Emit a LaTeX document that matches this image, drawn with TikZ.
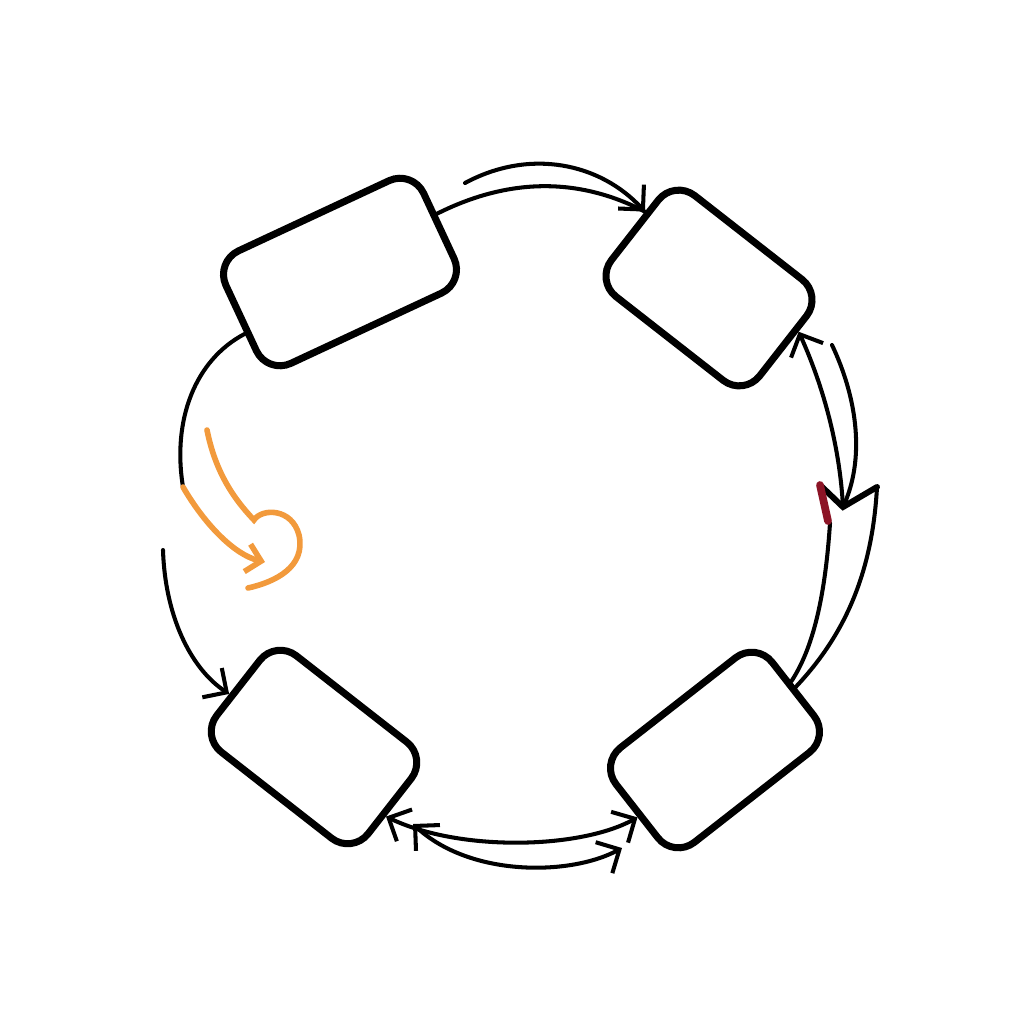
\documentclass[tikz,border=0pt]{standalone}
\usetikzlibrary{arrows.meta}
\definecolor{curlorange}{HTML}{F29A3C}
\definecolor{inkred}{HTML}{8C1426}

\begin{document}
\begin{tikzpicture}[
  x=0.01cm, y=-0.01cm,
  card/.style={draw, line width=2pt, rounded corners=0.26cm, inner sep=0pt},
  link/.style={line width=1.15pt, line cap=round},
  barb/.style={-{Straight Barb[length=5pt,width=10pt]}},
  twobarb/.style={{Straight Barb[length=5pt,width=10pt]}-{Straight Barb[length=5pt,width=10pt]}},
  curl/.style={curlorange, line width=1.6pt, line cap=round}
]
  \useasboundingbox (0,0) rectangle (1024,1024);

  % the four cards
  \node[card, minimum width=2.18cm, minimum height=1.24cm, rotate=25]  (tl) at (340,272) {};
  \node[card, minimum width=1.88cm, minimum height=1.28cm, rotate=-38] (tr) at (709,288) {};
  \node[card, minimum width=1.92cm, minimum height=1.22cm, rotate=-38] (bl) at (314,747) {};
  \node[card, minimum width=1.98cm, minimum height=1.2cm, rotate=38]   (br) at (715,750) {};

  % free ends
  \coordinate (topstart) at (465,183);
  \coordinate (rtwin) at (832,345);
  \coordinate (rtip) at (843,507);
  \coordinate (rbarbl) at (820,485);
  \coordinate (rbarbr) at (877,487);
  \coordinate (rlow) at (830,523);
  \coordinate (rred) at (828,521);
  \coordinate (leftjoin) at (183,487);
  \coordinate (curlstart) at (207,430);
  \coordinate (llstart) at (163,550);
  \coordinate (lowl) at (413,824);
  \coordinate (lowr) at (622,848);

  % top
  \draw[link, barb] (topstart) .. controls (530,148) and (600,163) .. (tr.168);
  \draw[link] (tl.6) .. controls (520,172) and (590,183) .. (tr.168);

  % right
  \draw[link, {Straight Barb[length=5pt,width=10pt]}-] (tr.12) .. controls (825,390) and (840,450) .. (rtip);
  \draw[link] (rtwin) .. controls (858,400) and (865,460) .. (rtip);
  \draw[link, line width=1.7pt, line join=miter] (rbarbl) -- (rtip) -- (rbarbr);
  \draw[link] (rbarbr) .. controls (872,580) and (840,640) .. (br.0);
  \draw[link] (rlow) .. controls (825,600) and (812,650) .. (br.4);
  \draw[inkred, line width=2.2pt, line cap=round] (rbarbl) -- (rred);

  % left
  \draw[link] (tl.188) .. controls (195,360) and (172,420) .. (leftjoin);
  \draw[curl, -{Straight Barb[length=4pt,width=8pt]}] (leftjoin) .. controls (205,525) and (235,555) .. (265,562);
  \draw[curl] (curlstart) .. controls (215,470) and (232,497) .. (254,520)
    .. controls (262,508) and (292,508) .. (299,535)
    .. controls (306,567) and (275,582) .. (248,588);
  \draw[link, barb] (llstart) .. controls (165,615) and (190,668) .. (bl.186);

  % bottom
  \draw[link, twobarb] (bl.354) .. controls (460,852) and (580,849) .. (br.183);
  \draw[link, twobarb] (lowl) .. controls (470,877) and (570,876) .. (lowr);
\end{tikzpicture}
\end{document}
